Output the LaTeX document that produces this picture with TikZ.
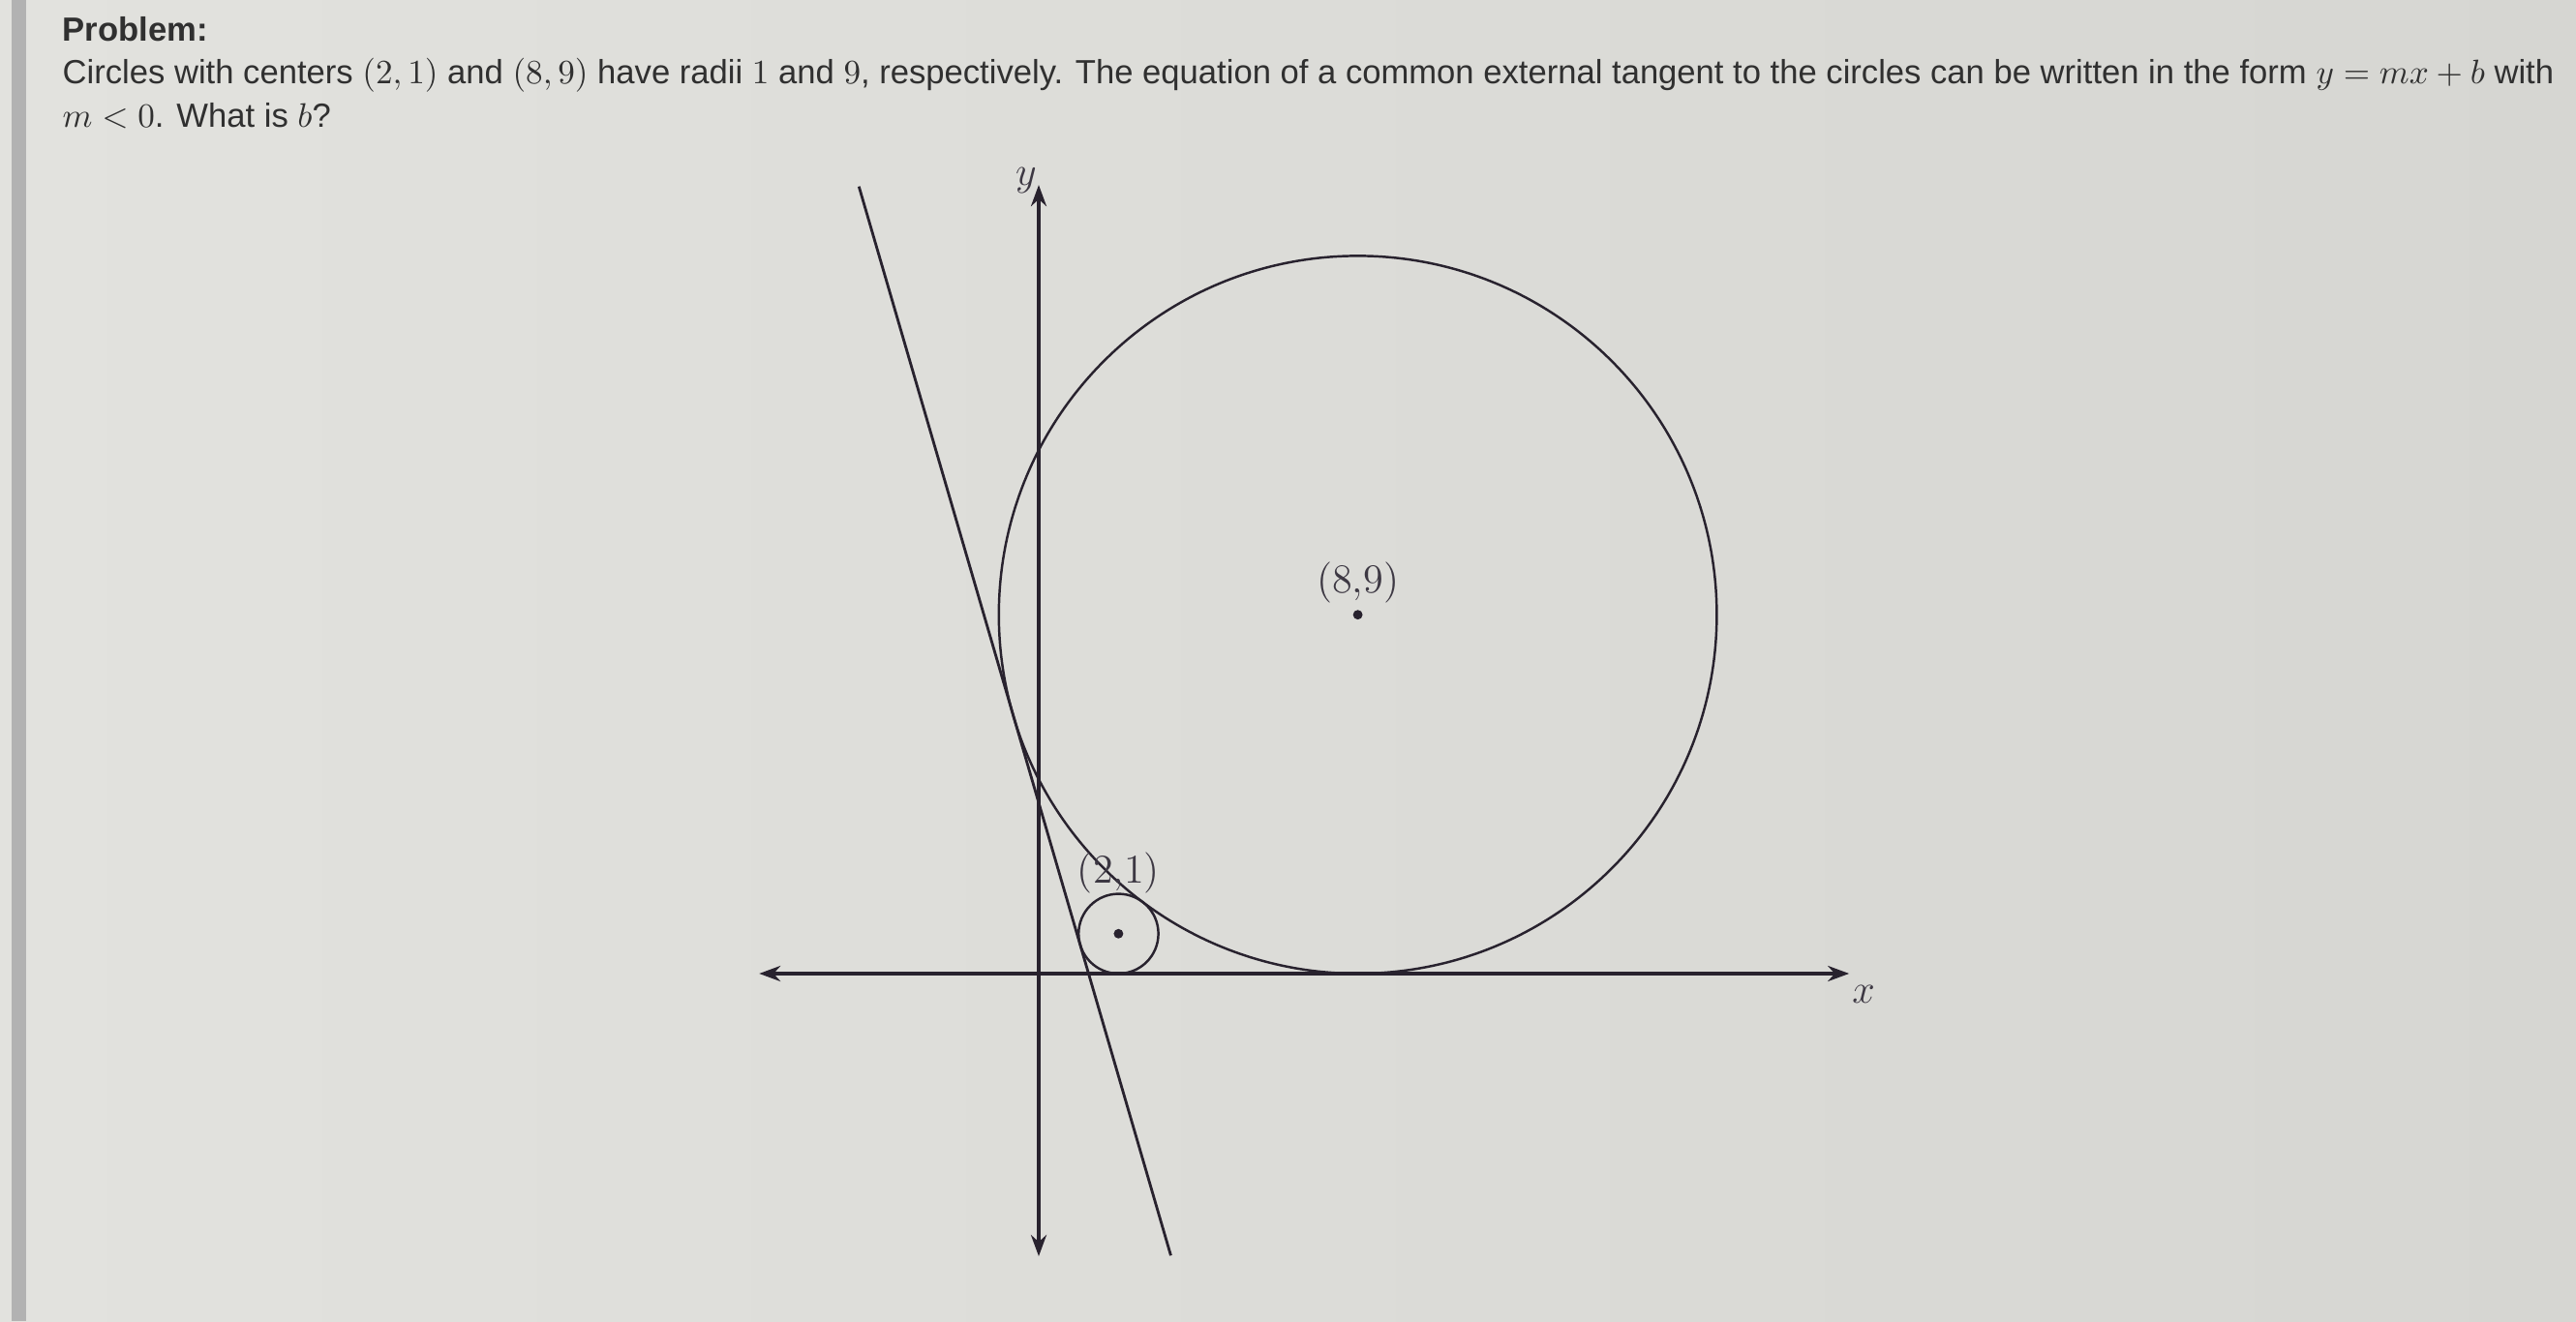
\documentclass[tikz,border=0pt]{standalone}
\usepackage{amsmath}
\usepackage{fontspec}
\usetikzlibrary{arrows.meta}
\newfontfamily\probfont{Liberation Sans}
\definecolor{paper}{RGB}{226,226,222}
\definecolor{paperdark}{RGB}{214,214,210}
\definecolor{stripgray}{RGB}{178,178,178}
\definecolor{ink}{RGB}{40,34,46}
\definecolor{textgray}{RGB}{48,48,48}
\tikzset{
    axisline/.style={ink,line width=1.2pt,{Stealth[length=2.2mm,width=1.6mm]}-{Stealth[length=2.2mm,width=1.6mm]}},
    circline/.style={ink,line width=0.7pt},
    ptlabel/.style={ink!90,inner sep=0pt,font=\fontsize{12}{14}\selectfont},
    probtext/.style={textgray,anchor=base west,inner sep=0pt,font=\probfont\fontsize{9.85}{11}\selectfont},
}
\newcommand\PlaneAxes[4]{%
    \draw[axisline] (#1,0) coordinate (XStart) -- (#2,0) coordinate (XEnd);
    \draw[axisline] (0,#3) coordinate (YStart) -- (0,#4) coordinate (YEnd);
    \node[ptlabel] (xlab) at ([xshift=1.5mm,yshift=-2.1mm]XEnd) {$x$};
    \node[ptlabel] (ylab) at ([xshift=-1.3mm,yshift=0.5mm]YEnd) {$y$};
    \coordinate (Origin) at (0,0);
}

\begin{document}
\begin{tikzpicture}
    \useasboundingbox (0,0) rectangle (26.61,13.65);
    \fill[left color=paper,right color=paperdark] (0,0) rectangle (26.61,13.65);
    \fill[stripgray] (0.12,0) rectangle (0.27,13.65);
    % problem text
    \node[probtext] (title) at (0.64,13.22) {\bfseries Problem:};
    \node[probtext] (line1) at (0.64,12.78) {Circles with centers $(2,1)$ and $(8,9)$ have radii $1$ and $9$, respectively. The equation of a common external tangent to the circles can be written in the form $y=mx+b$ with};
    \node[probtext] (line2) at (0.64,12.33) {$m<0$. What is $b$?};
    \begin{scope}[shift={(10.73,3.59)},x=0.412cm,y=0.412cm]
        \PlaneAxes{-7.01}{20.32}{-7.09}{19.78}
        \begin{scope}[circline] % circles
            \draw (2,1) coordinate (SmallC) circle (1);
            \draw (8,9) coordinate (BigC) circle (9);
            \fill (SmallC) circle (0.12);
            \fill (BigC) circle (0.12);
            \node[ptlabel] (smallLab) at (2,2.52) {(2,1)};
            \node[ptlabel] (bigLab) at (8,9.8) {(8,9)};
        \end{scope}
        \begin{scope}[ink,line width=0.8pt] % tangent, m<0
            \coordinate (TanTop) at (-4.508,19.74);
            \coordinate (TanBot) at (3.312,-7.07);
            \draw (TanTop) -- (TanBot);
        \end{scope}
    \end{scope}
\end{tikzpicture}
\end{document}
